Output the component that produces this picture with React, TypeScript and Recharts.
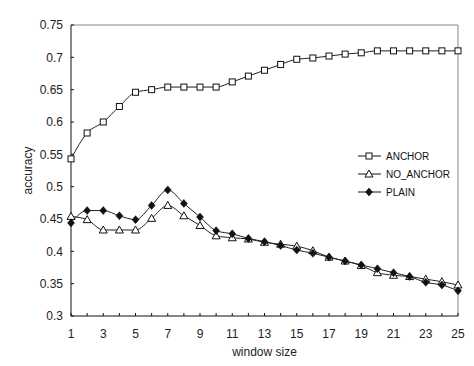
import React from 'react';
import { LineChart, Line, XAxis, YAxis, Legend, ReferenceLine } from 'recharts';

const windowSizes = [1, 2, 3, 4, 5, 6, 7, 8, 9, 10, 11, 12, 13, 14, 15, 16, 17, 18, 19, 20, 21, 22, 23, 24, 25];
const anchor = [0.543, 0.583, 0.6, 0.624, 0.646, 0.65, 0.654, 0.654, 0.654, 0.654, 0.662, 0.671, 0.68, 0.689, 0.697, 0.699, 0.702, 0.705, 0.707, 0.71, 0.71, 0.71, 0.71, 0.71, 0.71];
const noAnchor = [0.454, 0.449, 0.433, 0.433, 0.433, 0.451, 0.471, 0.455, 0.44, 0.424, 0.421, 0.419, 0.414, 0.411, 0.408, 0.401, 0.391, 0.385, 0.378, 0.367, 0.363, 0.361, 0.357, 0.353, 0.348];
const plain = [0.444, 0.463, 0.463, 0.455, 0.449, 0.471, 0.495, 0.474, 0.453, 0.432, 0.427, 0.42, 0.415, 0.409, 0.402, 0.397, 0.391, 0.385, 0.379, 0.373, 0.367, 0.361, 0.352, 0.348, 0.339];
const yTicks = [0.3, 0.35, 0.4, 0.45, 0.5, 0.55, 0.6, 0.65, 0.7, 0.75];

const chartData = windowSizes.map((w, i) => ({
  w,
  anchor: anchor[i],
  noAnchor: noAnchor[i],
  plain: plain[i],
}));

const font = '"Liberation Sans", Arial, sans-serif';

// marker shapes
const square = (cx: number, cy: number, key?: any) => (
  <rect key={key} x={cx - 3} y={cy - 3} width={6} height={6} fill="#fff" stroke="#111" strokeWidth={1} />
);
const triangle = (cx: number, cy: number, key?: any) => (
  <polygon key={key} points={`${cx},${cy - 4} ${cx - 4},${cy + 3} ${cx + 4},${cy + 3}`} fill="#fff" stroke="#111" strokeWidth={1} />
);
const diamond = (cx: number, cy: number, key?: any) => (
  <polygon key={key} points={`${cx},${cy - 4} ${cx + 3.5},${cy} ${cx},${cy + 4} ${cx - 3.5},${cy}`} fill="#111" stroke="#111" strokeWidth={0.5} />
);

const series = [
  { key: 'anchor', name: 'ANCHOR', marker: square },
  { key: 'noAnchor', name: 'NO_ANCHOR', marker: triangle },
  { key: 'plain', name: 'PLAIN', marker: diamond },
];

const renderLegend = () => (
  <div style={{ fontFamily: font, fontSize: 10, color: '#111' }}>
    {series.map((s) => (
      <div key={s.key} style={{ display: 'flex', alignItems: 'center', height: 18 }}>
        <svg width={26} height={10}>
          <line x1={1} x2={24} y1={5} y2={5} stroke="#111" strokeWidth={1} />
          {s.marker(12, 5)}
        </svg>
        <span style={{ marginLeft: 3 }}>{s.name}</span>
      </div>
    ))}
  </div>
);

export default function App() {
  return (
    <div style={{ position: 'absolute', left: 0, top: 0, background: '#fff' }}>
      <LineChart width={474} height={366} data={chartData} margin={{ top: 25, right: 16, bottom: 0, left: 0 }}>
        <XAxis
          dataKey="w"
          type="number"
          domain={[1, 25]}
          ticks={windowSizes}
          interval={0}
          tickFormatter={(v: number) => (v % 2 === 1 ? String(v) : '')}
          height={50}
          tickSize={-3}
          tickMargin={16}
          axisLine={{ stroke: '#111' }}
          tickLine={{ stroke: '#111' }}
          tick={{ fill: '#222', fontSize: 12, fontFamily: font }}
          label={{ value: 'window size', position: 'insideBottom', offset: 10, fill: '#222', fontSize: 12, fontFamily: font }}
        />
        <YAxis
          type="number"
          domain={[0.3, 0.75]}
          ticks={yTicks}
          interval={0}
          tickFormatter={(v: number) => String(+v.toFixed(2))}
          width={71}
          tickSize={-3}
          tickMargin={11}
          axisLine={{ stroke: '#111' }}
          tickLine={{ stroke: '#111' }}
          tick={{ fill: '#222', fontSize: 12, fontFamily: font }}
          label={{ value: 'accuracy', angle: -90, position: 'insideLeft', offset: 28, fill: '#222', fontSize: 12, fontFamily: font, style: { textAnchor: 'middle' } }}
        />
        <ReferenceLine y={0.75} stroke="#888" />
        <ReferenceLine x={25} stroke="#888" />
        <Legend
          layout="vertical"
          align="center"
          verticalAlign="middle"
          content={renderLegend}
          wrapperStyle={{ left: 357, top: 147, width: 110 }}
        />
        {series.map((s) => (
          <Line
            key={s.key}
            type="monotone"
            dataKey={s.key}
            name={s.name}
            stroke="#222"
            strokeWidth={1}
            dot={(p: any) => s.marker(p.cx, p.cy, p.index)}
            activeDot={false}
            isAnimationActive={false}
          />
        ))}
      </LineChart>
    </div>
  );
}
